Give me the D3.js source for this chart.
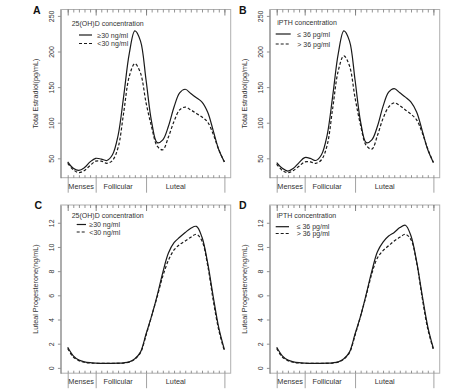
<!DOCTYPE html>
<html><head><meta charset="utf-8">
<script src="https://cdn.jsdelivr.net/npm/d3@7"></script>
<style>
html,body{margin:0;padding:0;background:#fff;}
svg{display:block;font-family:"Liberation Sans",Arial,sans-serif;}
</style></head>
<body><svg id="chart" width="474" height="392"></svg>
<script>
// ---- data ----
const days = [0,1,2,3,4,5,6,7,8,9,10,11,12,13,14,15,16,17,18,19,20,21,22,23,24,25,26,27,28];

const estradiolVitDHigh = [45,36,33,37,45,50,49,47,55,82,137,197,229,215,160,101,72,76,95,122,142,147,141,135,129,115,89,62,45];
const estradiolVitDLow  = [43,34,30,33,40,46,46,43,47,65,114,165,183,170,128,94,67,62,80,102,118,122,118,113,108,101,84,62,45];
const estradiolPthLow   = [44,36,32,36,44,51,50,47,55,82,137,197,229,215,160,101,72,76,95,123,143,148,142,136,129,115,89,62,44];
const estradiolPthHigh  = [42,33,30,33,39,45,45,43,48,68,120,173,194,180,135,96,68,63,82,106,122,128,124,118,112,104,86,63,44];

const progVitDHigh = [1.7,1.0,0.65,0.5,0.43,0.4,0.38,0.38,0.38,0.39,0.42,0.5,0.75,1.3,2.8,4.3,6.0,7.9,9.5,10.35,10.8,11.2,11.55,11.7,10.8,8.7,5.9,3.3,1.5];
const progVitDLow  = [1.6,0.9,0.6,0.45,0.4,0.38,0.37,0.37,0.37,0.37,0.4,0.48,0.72,1.25,2.7,4.3,5.9,7.6,8.9,9.75,10.2,10.5,10.8,11.05,10.5,8.5,5.6,3.1,1.4];
const progPthLow   = [1.7,1.0,0.65,0.5,0.43,0.4,0.38,0.38,0.38,0.39,0.42,0.5,0.75,1.3,2.8,4.3,6.1,8.0,9.6,10.4,10.9,11.2,11.6,11.8,10.9,8.8,6.0,3.4,1.6];
const progPthHigh  = [1.6,0.9,0.6,0.45,0.4,0.38,0.37,0.37,0.37,0.37,0.4,0.48,0.72,1.25,2.7,4.3,6.0,7.8,9.1,9.7,10.1,10.5,10.8,11.05,10.6,8.7,5.8,3.2,1.5];

const estradiolTicks = [50,100,150,200,250];
const progTicks = [0,2,4,6,8,10,12];
const phaseBounds = [0,5,14,28];
const phaseLabels = ["Menses","Follicular","Luteal"];
const phaseLabelDays = [2.4,9.0,19.3];

// ---- drawing ----
const svg = d3.select("#chart");
const FONT_COL = "#333";
const BOX_COL = "#b0b0b0";
const TICK_COL = "#777";
const LINE_COL = "#1a1a1a";

function panel(cfg){
  const ox = cfg.ox, oy = cfg.oy;
  const g = svg.append("g");
  const bx0 = ox + 60.7, bx1 = ox + 230.7, by0 = oy + 9.5, by1 = oy + 177.7;
  const x = d3.scaleLinear().domain([0,28]).range([ox + 67.7, ox + 224.4]);
  const y = d3.scaleLinear().domain(cfg.yDomain).range([by1, by0]);

  // box
  g.append("rect").attr("x",bx0).attr("y",by0).attr("width",bx1-bx0).attr("height",by1-by0)
    .attr("fill","none").attr("stroke",BOX_COL).attr("stroke-width",1);

  // day ticks on top (inward) and bottom (inward)
  const topAxis = d3.axisTop(x).tickValues(days).tickSizeInner(-3).tickSizeOuter(0).tickFormat("");
  const ta = g.append("g").attr("transform",`translate(0,${by0})`).call(topAxis);
  ta.select(".domain").remove();
  ta.selectAll("line").attr("stroke",TICK_COL).attr("stroke-width",0.8);
  const botAxis = d3.axisBottom(x).tickValues(days).tickSizeInner(-2.5).tickSizeOuter(0).tickFormat("");
  const ba = g.append("g").attr("transform",`translate(0,${by1})`).call(botAxis);
  ba.select(".domain").remove();
  ba.selectAll("line").attr("stroke",TICK_COL).attr("stroke-width",0.8);

  // phase boundaries: taller tick at top, separator below
  const topB = d3.axisTop(x).tickValues(phaseBounds).tickSizeInner(-6).tickSizeOuter(0).tickFormat("");
  const tb = g.append("g").attr("transform",`translate(0,${by0})`).call(topB);
  tb.select(".domain").remove();
  tb.selectAll("line").attr("stroke",TICK_COL).attr("stroke-width",0.9);
  const botB = d3.axisBottom(x).tickValues(phaseBounds).tickSizeInner(15).tickSizeOuter(0).tickFormat("");
  const bb = g.append("g").attr("transform",`translate(0,${by1})`).call(botB);
  bb.select(".domain").remove();
  bb.selectAll("line").attr("stroke","#999").attr("stroke-width",0.9);

  // phase labels
  g.selectAll("text.phase").data(phaseLabels).join("text")
    .attr("class","phase")
    .attr("x",(d,i)=>x(phaseLabelDays[i]))
    .attr("y",by1 + 11)
    .attr("text-anchor","middle")
    .attr("font-size",7.3).attr("fill",FONT_COL).text(d=>d);

  // y axis
  const yAxis = d3.axisLeft(y).tickValues(cfg.yTicks).tickSizeInner(2.8).tickSizeOuter(0).tickFormat(d3.format("d"));
  const ya = g.append("g").attr("transform",`translate(${bx0},0)`).call(yAxis);
  ya.select(".domain").attr("stroke",TICK_COL).attr("stroke-width",0.8);
  ya.selectAll("line").attr("stroke",TICK_COL).attr("stroke-width",0.8);
  ya.selectAll("text").attr("x",null).attr("dy",null)
    .attr("transform","translate(-6.5,0) rotate(-90)")
    .attr("text-anchor","middle").attr("dy","0em")
    .attr("font-size",7).attr("fill",FONT_COL).attr("font-family","Liberation Sans, Arial, sans-serif");

  // y title
  g.append("text").attr("transform",`translate(${ox+37.5},${(by0+by1)/2}) rotate(-90)`)
    .attr("text-anchor","middle").attr("font-size",7.2).attr("fill",FONT_COL).text(cfg.yTitle);

  // curves
  const line = d3.line().x((d,i)=>x(days[i])).y(d=>y(d)).curve(d3.curveCatmullRom.alpha(0.5));
  g.append("path").attr("d",line(cfg.solid)).attr("fill","none").attr("stroke",LINE_COL).attr("stroke-width",1.2);
  g.append("path").attr("d",line(cfg.dashed)).attr("fill","none").attr("stroke",LINE_COL).attr("stroke-width",1.2)
    .attr("stroke-dasharray","3,2");

  // legend
  const L = cfg.legend;
  g.append("text").attr("x",ox+L.tx).attr("y",oy+L.ty+2.5).attr("font-size",7).attr("fill",FONT_COL).text(L.title);
  g.append("line").attr("x1",ox+L.lx0).attr("x2",ox+L.lx1).attr("y1",oy+L.r1).attr("y2",oy+L.r1)
    .attr("stroke",LINE_COL).attr("stroke-width",1.2);
  g.append("line").attr("x1",ox+L.lx0).attr("x2",ox+L.lx1).attr("y1",oy+L.r2).attr("y2",oy+L.r2)
    .attr("stroke",LINE_COL).attr("stroke-width",1.2).attr("stroke-dasharray","3,2");
  g.append("text").attr("x",ox+L.txt).attr("y",oy+L.r1+2.5).attr("font-size",7).attr("fill",FONT_COL).text(L.labels[0]);
  g.append("text").attr("x",ox+L.txt).attr("y",oy+L.r2+2.5).attr("font-size",7).attr("fill",FONT_COL).text(L.labels[1]);

  // panel letter
  g.append("text").attr("x",ox+cfg.letterX).attr("y",oy+13.5).attr("font-size",10.5).attr("font-weight","bold")
    .attr("fill","#111").text(cfg.letter);
}

panel({ox:0, oy:0, letter:"A", letterX:33, yDomain:[22.8,259], yTicks:estradiolTicks,
  yTitle:"Total Estradiol(pg/mL)", solid:estradiolVitDHigh, dashed:estradiolVitDLow,
  legend:{title:"25(OH)D concentration", tx:71.7, ty:23.3, lx0:79, lx1:92, txt:97.3, r1:35, r2:43.5,
          labels:["≥30 ng/ml","<30 ng/ml"]}});
panel({ox:209, oy:0, letter:"B", letterX:30, yDomain:[22.8,259], yTicks:estradiolTicks,
  yTitle:"Total Estradiol(pg/mL)", solid:estradiolPthLow, dashed:estradiolPthHigh,
  legend:{title:"iPTH concentration", tx:68.3, ty:22.7, lx0:66.7, lx1:81.7, txt:88.3, r1:34, r2:44,
          labels:["≤ 36 pg/ml","> 36 pg/ml"]}});
panel({ox:0, oy:195.5, letter:"C", letterX:34.5, yDomain:[-0.44,13.47], yTicks:progTicks,
  yTitle:"Luteal Progesterone(ng/mL)", solid:progVitDHigh, dashed:progVitDLow,
  legend:{title:"25(OH)D concentration", tx:71.7, ty:19.5, lx0:76.7, lx1:86, txt:89.3, r1:29, r2:36.5,
          labels:["≥30 ng/ml","<30 ng/ml"]}});
panel({ox:209, oy:195.5, letter:"D", letterX:30, yDomain:[-0.44,13.47], yTicks:progTicks,
  yTitle:"Luteal Progesterone(ng/mL)", solid:progPthLow, dashed:progPthHigh,
  legend:{title:"iPTH concentration", tx:67.7, ty:20.2, lx0:66.7, lx1:80, txt:87.7, r1:31.2, r2:38,
          labels:["≤ 36 pg/ml","> 36 pg/ml"]}});
</script></body></html>
